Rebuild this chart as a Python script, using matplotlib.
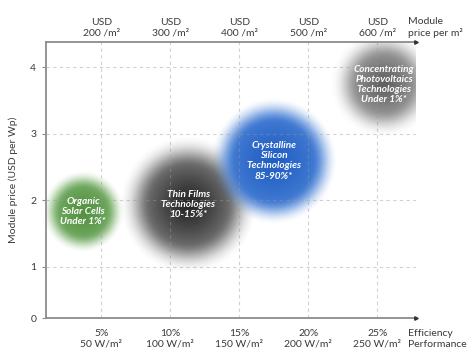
import matplotlib
matplotlib.use('Agg')
import matplotlib.pyplot as plt
import numpy as np

plt.rcParams['font.family'] = ['Lato', 'DejaVu Sans']

# bubbles: efficiency (%), module price (USD per Wp), radius in pixels
labels = ['Organic\nSolar Cells\nUnder 1%*',
          'Thin Films\nTechnologies\n10-15%*',
          'Crystalline\nSilicon\nTechnologies\n85-90%*',
          'Concentrating\nPhotovoltaics\nTechnologies\nUnder 1%*']
efficiency = [3.7, 11.3, 17.5, 25.5]
price = [1.83, 1.93, 2.59, 3.74]
radius_px = [37, 62, 57, 48]

# bottom / top axis labels
eff_ticks = [5, 10, 15, 20, 25]
eff_labels = ['5%\n50 W/m²', '10%\n100 W/m²', '15%\n150 W/m²', '20%\n200 W/m²', '25%\n250 W/m²']
usd_labels = ['USD\n200 /m²', 'USD\n300 /m²', 'USD\n400 /m²', 'USD\n500 /m²', 'USD\n600 /m²']
price_ticks = [1, 2, 3, 4]

center_colors = [(0.33, 0.57, 0.26), (0.15, 0.15, 0.15), (0.13, 0.37, 0.76), (0.38, 0.38, 0.38)]
edge_colors = [(0.48, 0.70, 0.42), (0.58, 0.58, 0.58), (0.30, 0.52, 0.85), (0.72, 0.72, 0.72)]
inner = [0.55, 0.55, 0.6, 0.5]

W, H = 474, 354
fig = plt.figure(figsize=(W / 100, H / 100), dpi=100)
ax = fig.add_axes([46 / W, 36 / H, 370 / W, 276 / H])
xmin, xmax = 1.0, 27.8
ymin, ymax = 0.226, 4.38
px_x = 370 / (xmax - xmin)
px_y = 276 / (ymax - ymin)

# dashed grid, drawn over the bubbles but semi-transparent
for x in eff_ticks:
    ax.axvline(x, color='#999999', alpha=0.45, lw=0.8, ls=(0, (3, 3)), zorder=4)
for y in price_ticks:
    ax.axhline(y, color='#999999', alpha=0.45, lw=0.8, ls=(0, (3, 3)), zorder=4)

n = 201
u = np.linspace(-1, 1, n)
uu, vv = np.meshgrid(u, u)
d = np.sqrt(uu ** 2 + vv ** 2)
for i in range(len(labels)):
    r = radius_px[i] * 1.12
    rx = r / px_x
    ry = r / px_y
    t = np.clip((d - inner[i]) / (1 - inner[i]), 0, 1)
    alpha = 1 - (3 * t ** 2 - 2 * t ** 3)
    mix = np.clip(d / 0.85, 0, 1)[..., None] ** 1.3
    c0 = np.array(center_colors[i])
    c1 = np.array(edge_colors[i])
    rgb = c0 * (1 - mix) + c1 * mix
    img = np.dstack([rgb, alpha])
    ax.imshow(img, extent=[efficiency[i] - rx, efficiency[i] + rx, price[i] - ry, price[i] + ry],
              aspect='auto', interpolation='bilinear', zorder=2, origin='lower')
    ax.text(efficiency[i], price[i], labels[i], color='white', fontsize=7.2, style='italic',
            fontweight='bold', ha='center', va='center', linespacing=1.15, zorder=5)

ax.set_xlim(xmin, xmax)
ax.set_ylim(ymin, ymax)

axcol = '#8c8c8c'
txtcol = '#3a3a3a'
ax.spines['right'].set_visible(False)
for s in ['left', 'top', 'bottom']:
    ax.spines[s].set_color(axcol)
    ax.spines[s].set_linewidth(1.3)
    ax.spines[s].set_zorder(6)
ax.plot([1], [0], marker='>', ms=2.5, color='#333333', transform=ax.transAxes, clip_on=False, zorder=7)
ax.plot([1], [1], marker='>', ms=2.5, color='#333333', transform=ax.transAxes, clip_on=False, zorder=7)

ax.set_yticks([ymin] + price_ticks)
ax.set_yticklabels(['0'] + [str(p) for p in price_ticks])
ax.tick_params(axis='y', length=3, color=axcol, labelsize=7.5, labelcolor=txtcol, pad=4)
ax.set_xticks(eff_ticks)
ax.set_xticklabels(eff_labels)
ax.tick_params(axis='x', length=0, labelsize=7.5, labelcolor=txtcol, pad=8)

top = ax.secondary_xaxis('top')
top.set_xticks(eff_ticks)
top.set_xticklabels(usd_labels)
top.tick_params(length=0, labelsize=7.5, labelcolor=txtcol, pad=3)
top.spines['top'].set_visible(False)

ax.text(0.978, -0.076, 'Efficiency\nPerformance', transform=ax.transAxes, fontsize=7.5,
        color=txtcol, ha='left', va='center', linespacing=1.25)
ax.text(0.978, 1.054, 'Module\nprice per m²', transform=ax.transAxes, fontsize=7.5,
        color=txtcol, ha='left', va='center', linespacing=1.25)

ax.set_ylabel('Module price (USD per Wp)', fontsize=7.5, color=txtcol)
ax.yaxis.set_label_coords(-28 / 370, 0.5)

fig.savefig('out.png', dpi=100)
